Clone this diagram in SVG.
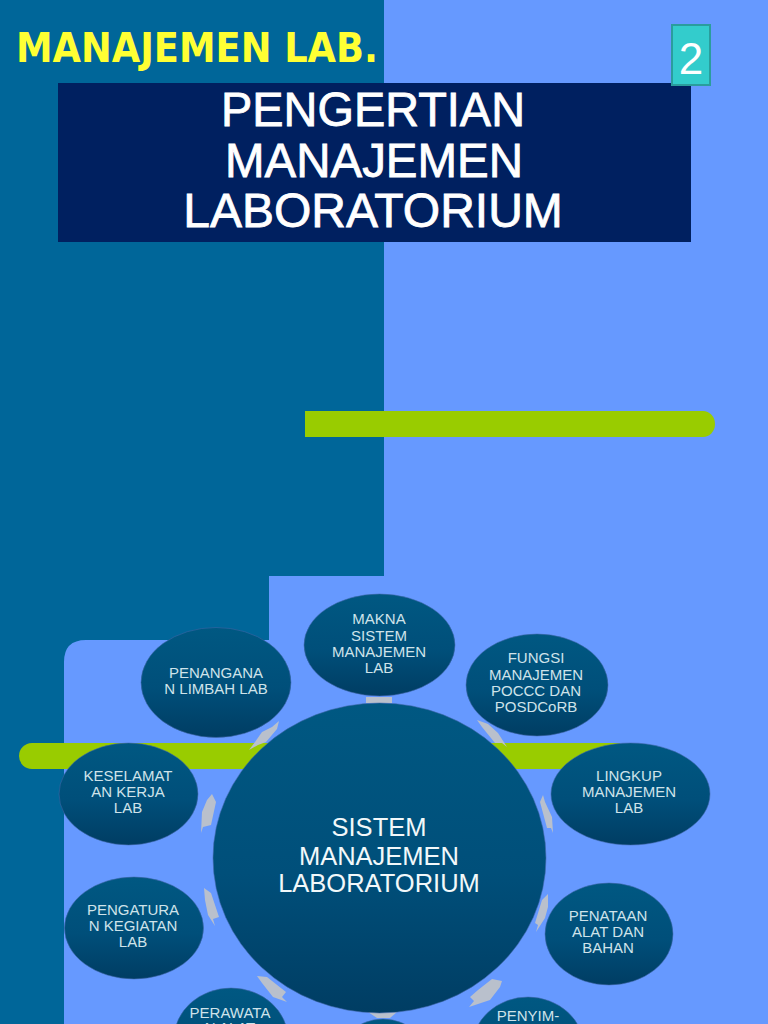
<svg xmlns="http://www.w3.org/2000/svg" width="768" height="1024" viewBox="0 0 768 1024">
<defs>
<linearGradient id="g" x1="0" y1="0" x2="0" y2="1"><stop offset="0" stop-color="#005882"/><stop offset="0.55" stop-color="#004f7a"/><stop offset="1" stop-color="#003d63"/></linearGradient>
</defs>
<style>
.n{fill:url(#g);stroke:#3f66a8;stroke-width:.8;stroke-opacity:.7}
.t{font-family:"Liberation Sans",Arial,sans-serif;font-size:15px;fill:#cfe3ea;text-anchor:middle}
.c{font-size:25.500px;fill:#f2f8fa}
.h{font-family:"Liberation Sans",Arial,sans-serif;font-size:48px;fill:#fff;stroke:#fff;stroke-width:.8;text-anchor:middle}
.a{fill:#b9c0cc}
</style>
<rect width="768" height="1024" fill="#6699ff"/>
<path d="M0,0H384V576H269V640H86Q64,640 64,662V1024H0Z" fill="#006699"/>
<path d="M305,411H703A12,13 0 0 1 703,437H305Z" fill="#99cc00"/>
<path d="M32,743H620V769H32A13,13 0 0 1 32,743Z" fill="#99cc00"/>
<g id="title"><rect x="58" y="83" width="633" height="159" fill="#002060"/>
<text class="h" x="373" y="126" textLength="304" lengthAdjust="spacingAndGlyphs">PENGERTIAN</text>
<text class="h" x="374" y="177" textLength="298" lengthAdjust="spacingAndGlyphs">MANAJEMEN</text>
<text class="h" x="373" y="227">LABORATORIUM</text></g>
<text x="16" y="62" font-family="DejaVu Sans,sans-serif" font-weight="bold" font-size="40" fill="#ffff33" textLength="362" lengthAdjust="spacingAndGlyphs">MANAJEMEN LAB.</text>
<g id="badge"><rect x="672" y="25" width="38" height="60" fill="#33cccc" stroke="#2a9d9d" stroke-width="2"/>
<text x="691" y="74" font-family="Liberation Sans,sans-serif" font-size="44" fill="#fff" text-anchor="middle">2</text></g>
<g id="connectors" class="a">
<path d="M366,697H392V703H366Z"/>
<path d="M368,1012H397L390,1018H377Z"/>
<polygon points="279,721 272,727 262,732 255,742 249,750 258,745 266,742 277,729"/>
<polygon points="212,794 216,802 211,825 203,827 201,833 202,812 207,800"/>
<polygon points="204,888 211,893 219,917 213,919 215,926 208,915 205,900"/>
<polygon points="257,976 267,977 286,992 282,997 287,1002 273,997 262,983"/>
<polygon points="502,981 492,979 478,990 470,997 474,1001 469,1007 490,1000 500,987"/>
<polygon points="548,894 542,900 535,923 538,925 536,932 545,918 548,907"/>
<polygon points="543,795 540,802 547,828 551,828 553,833 552,817 545,802"/>
<polygon points="477,720 482,727 495,743 502,743 507,747 498,733 488,724"/>
</g>
<g id="center"><ellipse class="n" cx="379.500" cy="858" rx="166.500" ry="155"/>
<text class="t c" x="379" y="836">SISTEM</text><text class="t c" x="379" y="865">MANAJEMEN</text><text class="t c" x="379" y="892">LABORATORIUM</text></g>
<g id="n1"><ellipse class="n" cx="379.500" cy="645" rx="75.500" ry="51"/><text class="t" x="379" y="624">MAKNA</text><text class="t" x="379" y="641">SISTEM</text><text class="t" x="379" y="657">MANAJEMEN</text><text class="t" x="379" y="673">LAB</text></g>
<g id="n2"><ellipse class="n" cx="537" cy="685" rx="71" ry="51"/><text class="t" x="536" y="663">FUNGSI</text><text class="t" x="536" y="680">MANAJEMEN</text><text class="t" x="536" y="696">POCCC DAN</text><text class="t" x="536" y="712">POSDCoRB</text></g>
<g id="n3"><ellipse class="n" cx="630.500" cy="794" rx="79.500" ry="51"/><text class="t" x="629" y="781">LINGKUP</text><text class="t" x="629" y="797">MANAJEMEN</text><text class="t" x="629" y="813">LAB</text></g>
<g id="n4"><ellipse class="n" cx="609" cy="934" rx="64" ry="51"/><text class="t" x="608" y="921">PENATAAN</text><text class="t" x="608" y="937">ALAT DAN</text><text class="t" x="608" y="953">BAHAN</text></g>
<g id="n5"><ellipse class="n" cx="528" cy="1048" rx="56" ry="51"/><text class="t" x="528" y="1021">PENYIM-</text></g>
<g id="n6"><ellipse class="n" cx="383" cy="1070" rx="50" ry="51"/></g>
<g id="n7"><ellipse class="n" cx="231" cy="1039" rx="57" ry="51"/><text class="t" x="230" y="1018">PERAWATA</text><text class="t" x="230" y="1033">N ALAT</text></g>
<g id="n8"><ellipse class="n" cx="134" cy="928" rx="69.500" ry="51"/><text class="t" x="133" y="915">PENGATURA</text><text class="t" x="133" y="931">N KEGIATAN</text><text class="t" x="133" y="947">LAB</text></g>
<g id="n9"><ellipse class="n" cx="128.500" cy="794" rx="69.500" ry="51"/><text class="t" x="128" y="781">KESELAMAT</text><text class="t" x="128" y="797">AN KERJA</text><text class="t" x="128" y="813">LAB</text></g>
<g id="n10"><ellipse class="n" cx="216" cy="682.500" rx="75" ry="55"/><text class="t" x="216" y="678">PENANGANA</text><text class="t" x="216" y="694">N LIMBAH LAB</text></g>
</svg>
